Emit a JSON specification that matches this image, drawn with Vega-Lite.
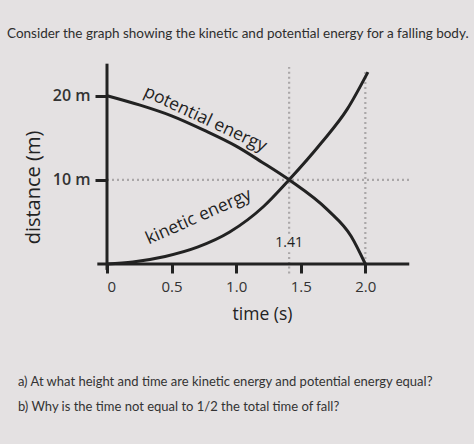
{
  "$schema": "https://vega.github.io/schema/vega-lite/v6.json",
  "autosize": "none",
  "padding": {"left": 107, "top": 62, "right": 57, "bottom": 180},
  "width": 310,
  "height": 202,
  "background": "#e4e1e2",
  "title": {
    "text": "Consider the graph showing the kinetic and potential energy for a falling body.",
    "anchor": "start",
    "frame": "group",
    "dx": -100,
    "offset": 22,
    "font": "Lato",
    "fontSize": 13.5,
    "fontWeight": "normal",
    "color": "#2e2e2e"
  },
  "config": {
    "view": {"stroke": null},
    "font": "Open Sans"
  },
  "datasets": {
    "curves": [
      {"series": "potential", "t": 0, "d": 20},
      {"series": "potential", "t": 0.25, "d": 18.9},
      {"series": "potential", "t": 0.5, "d": 17.6},
      {"series": "potential", "t": 0.75, "d": 15.9},
      {"series": "potential", "t": 1.0, "d": 14.0},
      {"series": "potential", "t": 1.2, "d": 12.1},
      {"series": "potential", "t": 1.41, "d": 10},
      {"series": "potential", "t": 1.71, "d": 6.4},
      {"series": "potential", "t": 1.89, "d": 3.3},
      {"series": "potential", "t": 2.0, "d": 0},
      {"series": "kinetic", "t": 0, "d": 0},
      {"series": "kinetic", "t": 0.2, "d": 0.25},
      {"series": "kinetic", "t": 0.45, "d": 0.9},
      {"series": "kinetic", "t": 0.7, "d": 2.0},
      {"series": "kinetic", "t": 0.95, "d": 3.8},
      {"series": "kinetic", "t": 1.21, "d": 6.8},
      {"series": "kinetic", "t": 1.41, "d": 10},
      {"series": "kinetic", "t": 1.66, "d": 14.4},
      {"series": "kinetic", "t": 1.86, "d": 18.4},
      {"series": "kinetic", "t": 2.02, "d": 22.8}
    ],
    "guides": [
      {"t": 1.41, "t2": 1.41, "d": 0, "d2": 1.4},
      {"t": 1.41, "t2": 1.41, "d": 3.6, "d2": 23.4},
      {"t": 2.0, "t2": 2.0, "d": 0, "d2": 23.1},
      {"t": 0, "t2": 2.34, "d": 10, "d2": 10},
      {"t": 1.41, "t2": 1.41, "d": -0.3, "d2": -1.2}
    ],
    "axes": [
      {"t": -0.075, "t2": 2.34, "d": 0, "d2": 0},
      {"t": 0, "t2": 0, "d": -0.7, "d2": 23.8}
    ],
    "labels": [
      {"text": "potential energy", "t": 0.76, "d": 17.2, "angle": 25, "size": 17.5},
      {"text": "kinetic energy", "t": 0.71, "d": 5.6, "angle": -24, "size": 17.5},
      {"text": "1.41", "t": 1.41, "d": 2.5, "angle": 0, "size": 14}
    ],
    "questions": [
      {"text": "a) At what height and time are kinetic energy and potential energy equal?", "t": -0.69, "d": -14.0},
      {"text": "b) Why is the time not equal to 1/2 the total time of fall?", "t": -0.69, "d": -17.0}
    ]
  },
  "layer": [
    {
      "data": {"name": "guides"},
      "mark": {"type": "rule", "color": "#aaa7a8", "strokeWidth": 2.2, "strokeDash": [2, 3]},
      "encoding": {
        "x": {"field": "t", "type": "quantitative", "scale": {"domain": [0, 2.34]}},
        "x2": {"field": "t2"},
        "y": {"field": "d", "type": "quantitative", "scale": {"domain": [0, 23.8]}},
        "y2": {"field": "d2"}
      }
    },
    {
      "data": {"name": "axes"},
      "mark": {"type": "rule", "color": "#222222", "strokeWidth": 3},
      "encoding": {
        "x": {
          "field": "t",
          "type": "quantitative",
          "title": "time (s)",
          "axis": {
            "domain": false,
            "grid": false,
            "values": [0, 0.5, 1, 1.5, 2],
            "labelExpr": "datum.value == 0 ? '0' : format(datum.value, '.1f')",
            "tickSize": 9,
            "tickWidth": 3,
            "tickColor": "#222222",
            "labelFont": "Open Sans",
            "labelFontSize": 15,
            "labelColor": "#333333",
            "labelPadding": 6,
            "titleFont": "Open Sans",
            "titleFontSize": 17.5,
            "titleFontWeight": "normal",
            "titleColor": "#222222",
            "titlePadding": 11
          }
        },
        "x2": {"field": "t2"},
        "y": {
          "field": "d",
          "type": "quantitative",
          "title": "distance (m)",
          "axis": {
            "domain": false,
            "grid": false,
            "values": [10, 20],
            "labelExpr": "datum.value + ' m'",
            "tickSize": 12,
            "tickWidth": 3,
            "tickColor": "#222222",
            "labelFont": "Open Sans",
            "labelFontSize": 16,
            "labelFontWeight": 600,
            "labelColor": "#333333",
            "labelPadding": 5,
            "titleFont": "Open Sans",
            "titleFontSize": 20,
            "titleFontWeight": "normal",
            "titleColor": "#222222",
            "titleX": -74,
            "titleY": 125,
            "titleAngle": -90,
            "titleBaseline": "middle",
            "titleAlign": "center"
          }
        },
        "y2": {"field": "d2"}
      }
    },
    {
      "data": {"name": "curves"},
      "mark": {"type": "line", "color": "#222222", "strokeWidth": 3, "interpolate": "monotone"},
      "encoding": {
        "x": {"field": "t", "type": "quantitative"},
        "y": {"field": "d", "type": "quantitative"},
        "detail": {"field": "series"}
      }
    },
    {
      "data": {"name": "labels"},
      "mark": {"type": "text", "color": "#1e1e1e", "font": "Open Sans", "fontWeight": 500, "align": "center", "baseline": "middle"},
      "encoding": {
        "x": {"field": "t", "type": "quantitative"},
        "y": {"field": "d", "type": "quantitative"},
        "text": {"field": "text"},
        "angle": {"field": "angle", "type": "quantitative", "scale": null},
        "size": {"field": "size", "type": "quantitative", "scale": null}
      }
    },
    {
      "data": {"name": "questions"},
      "mark": {"type": "text", "color": "#333333", "font": "Lato", "fontSize": 13, "align": "left", "baseline": "middle"},
      "encoding": {
        "x": {"field": "t", "type": "quantitative"},
        "y": {"field": "d", "type": "quantitative"},
        "text": {"field": "text"}
      }
    }
  ]
}
